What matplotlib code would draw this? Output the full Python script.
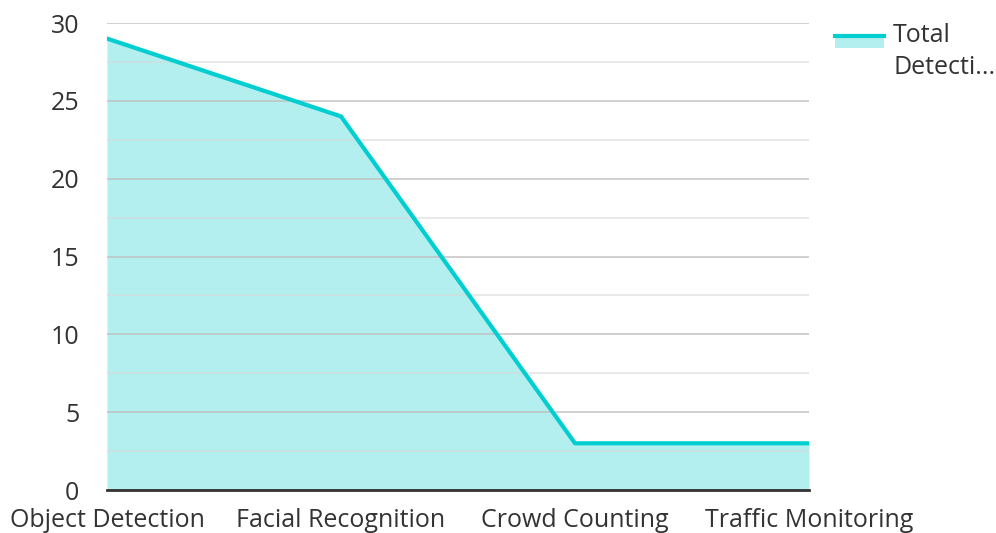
import matplotlib
matplotlib.use("Agg")
import matplotlib.pyplot as plt
from matplotlib.lines import Line2D
from matplotlib.patches import Rectangle
from matplotlib.ticker import MultipleLocator

plt.rcParams['font.family'] = ['Open Sans', 'DejaVu Sans']

categories = ['Object Detection', 'Facial Recognition', 'Crowd Counting', 'Traffic Monitoring']
total_detections = [29, 24, 3, 3]
series_label = ['Total', 'Detecti...']

line_color = '#00CED1'
fill_color = '#B2EFEE'

W, H = 996, 533
fig = plt.figure(figsize=(W/100, H/100), dpi=100)
ax = fig.add_axes([107/W, 43/H, 702/W, 467/H])

x = range(len(categories))
ax.fill_between(x, total_detections, 0, color=fill_color, linewidth=0, zorder=1)
ax.plot(x, total_detections, color=line_color, linewidth=3, zorder=3)

ax.set_xlim(0, len(categories) - 1)
ax.set_ylim(0, 30)
ax.set_xticks(list(x))
ax.set_xticklabels(categories)
ax.yaxis.set_major_locator(MultipleLocator(5))
ax.yaxis.set_minor_locator(MultipleLocator(2.5))

# grid above the fill, below the line
ax.set_axisbelow('line')
ax.grid(axis='y', which='major', color='#c0c0c0', linewidth=1.3, alpha=0.8)
ax.grid(axis='y', which='minor', color='#d8d8d8', linewidth=1.3, alpha=0.6)

for s in ['top', 'right', 'left']:
    ax.spines[s].set_visible(False)
ax.spines['bottom'].set_color('#333333')
ax.spines['bottom'].set_linewidth(2)
ax.spines['bottom'].set_zorder(4)

ax.tick_params(axis='both', which='both', length=0, labelsize=18, colors='#333333')
ax.tick_params(axis='y', pad=20)
ax.tick_params(axis='x', pad=13)

# legend drawn by hand: line on top of a filled swatch, wrapped label
fig.add_artist(Rectangle((835/W, 1 - 48/H), 49/W, 11/H, transform=fig.transFigure,
                         facecolor=fill_color, edgecolor='none'))
fig.add_artist(Line2D([835/W, 884/W], [1 - 36/H, 1 - 36/H], transform=fig.transFigure,
                      color=line_color, linewidth=3))
fig.text(893/W, 1 - 35/H, series_label[0], fontsize=18, color='#333333', va='center')
fig.text(893/W, 1 - 68/H, series_label[1], fontsize=18, color='#333333', va='center')

fig.savefig('out.png', dpi=100)
